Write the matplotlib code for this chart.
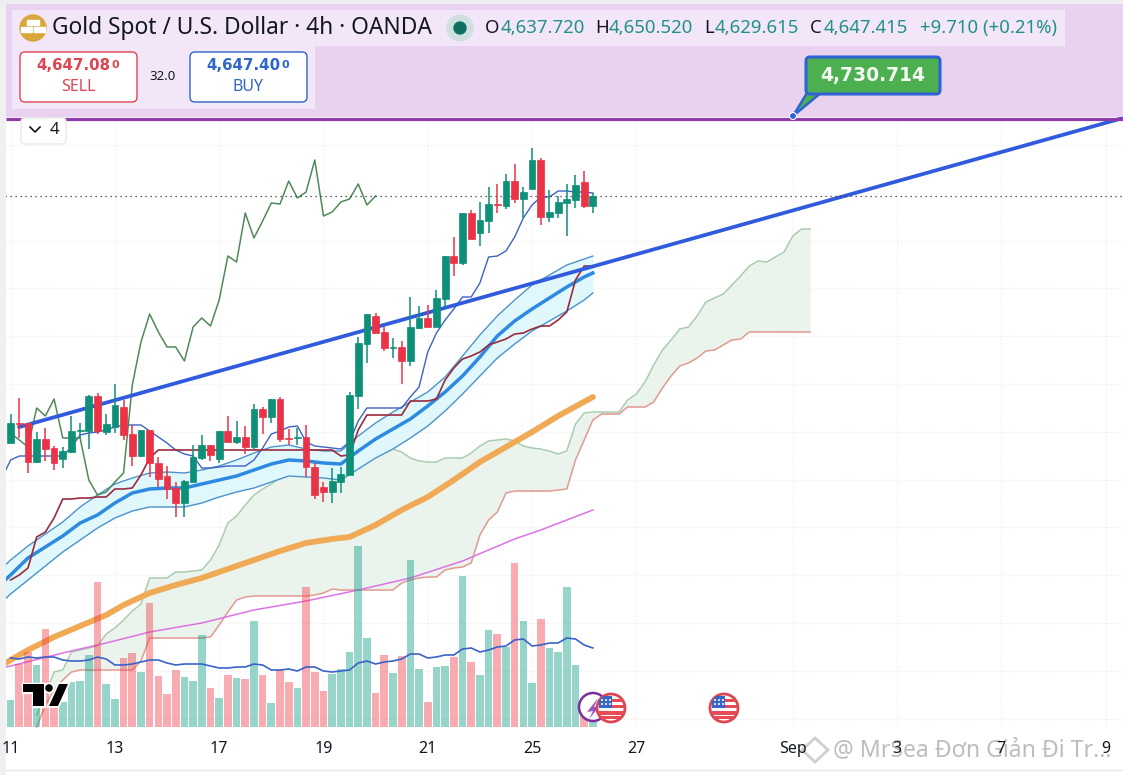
import matplotlib
matplotlib.use("Agg")
import matplotlib.pyplot as plt
from matplotlib.patches import Rectangle, Circle, FancyBboxPatch, Polygon

plt.rcParams["font.family"] = ["Noto Sans", "DejaVu Sans"]

# 4h candles
opens = [4400,4420,4420,4381,4404,4395,4384,4391,4412,4412,4447,4411,4416,4436,4409,4387,4413,4380,4367,4355,
         4340,4361,4385,4398,4384,4412,4401,4406,4396,4434,4426,4444,4405,4405,4406,4376,4356,4351,4361,4368,
         4447,4499,4527,4511,4495,4496,4482,4515,4525,4516,4544,4587,4580,4630,4610,4622,4639,4637,4662,4644,
         4654,4683,4626,4630,4640,4643,4661,4637]
highs = [4429,4445,4420,4411,4415,4397,4396,4427,4420,4448,4450,4429,4459,4443,4418,4413,4413,4386,4377,4361,
         4363,4398,4408,4398,4412,4427,4422,4417,4439,4436,4444,4446,4414,4415,4418,4380,4361,4375,4376,4451,
         4506,4529,4530,4516,4505,4502,4546,4537,4538,4553,4587,4606,4630,4633,4641,4656,4659,4669,4679,4656,
         4695,4685,4653,4647,4659,4668,4672,4650]
lows = [4400,4405,4370,4380,4382,4373,4375,4390,4405,4394,4409,4408,4410,4403,4377,4386,4366,4356,4344,4326,
        4326,4361,4383,4382,4380,4401,4399,4389,4394,4409,4420,4401,4398,4398,4366,4344,4341,4340,4350,4368,
        4434,4480,4510,4492,4485,4459,4477,4514,4516,4516,4535,4567,4578,4604,4597,4610,4630,4634,4640,4625,
        4654,4618,4621,4625,4607,4635,4635,4630]
closes = [4420,4419,4381,4404,4394,4380,4392,4412,4413,4447,4412,4419,4438,4408,4387,4413,4380,4364,4354,4340,
          4362,4386,4398,4388,4412,4401,4406,4396,4434,4426,4444,4404,4404,4406,4376,4348,4351,4362,4369,4448,
          4500,4529,4510,4495,4496,4482,4516,4525,4516,4545,4587,4580,4630,4604,4623,4639,4638,4662,4644,4651,
          4683,4626,4631,4641,4644,4658,4637,4647]

volumes = [27,63,75,62,98,20,25,45,46,72,145,43,28,69,74,55,124,51,33,57,50,46,92,39,29,52,49,48,106,52,24,57,45,39,
           140,55,36,53,58,75,181,89,34,72,54,71,167,58,25,60,61,70,151,65,52,97,93,80,164,106,44,108,79,75,140,62,15,8]
volume_ma = [69,68,70,69,70,70,67,66,66,67,70,68,62,62,63,65,67,67,64,62,63,63,63,61,59,59,60,60,63,62,57,57,58,56,
             60,60,56,55,56,57,64,66,63,65,66,68,73,73,69,70,72,72,78,79,75,77,80,81,87,88,81,82,84,84,89,88,82,79]

tenkan_bars = list(range(-1, 68))
tenkan = [4365,4383,4387,4387,4387,4387,4387,4387,4396,4408,4410,4411,4413,4416,4418,4418,4418,4412,4406,4400,4393,
          4389,4387,4375,4375,4376,4377,4377,4377,4383,4395,4409,4412,4416,4417,4401,4397,4396,4395,4394,4401,
          4422,4435,4435,4435,4435,4435,4446,4456,4491,4510,4523,4534,4546,4546,4560,4586,4587,4592,4606,4625,
          4638,4646,4646,4652,4652,4651,4651,4650]
kijun = [4263,4268,4275,4306,4311,4325,4344,4344,4345,4345,4346,4346,4354,4354,4355,4368,4385,
         4393,4393,4393,4393,4393,4393,4393,4393,4393,4393,4393,4393,4393,4393,4393,4393,4393,4393,4393,4393,4393,
         4387,4388,4413,4428,4428,4428,4428,4428,4442,4442,4442,4444,4463,4475,4484,4487,4491,4498,4501,4504,4509,
         4510,4514,4517,4517,4523,4531,4563,4577,4577]
lagging = [4410,4403,4396,4435,4427,4444,4405,4405,4405,4363,4348,4351,4361,4370,4458,4501,4529,4511,4496,4496,
           4482,4516,4525,4517,4543,4587,4581,4630,4605,4622,4640,4639,4662,4645,4651,4683,4627,4631,4641,4644,
           4659,4638,4647]

# cloud, starts at bar 3 and runs 25 bars past the last candle
span_a = [4128,4148,4171,4173,4191,4193,4195,4197,4209,4215,4223,4232,4239,4265,4265,4265,4271,4271,4272,4273,
          4283,4298,4320,4327,4338,4348,4354,4359,4365,4375,4377,4379,4382,4384,4387,4388,4394,4399,4401,4401,
          4396,4394,4391,4385,4382,4381,4381,4385,4385,4385,4390,4397,4402,4403,4404,4402,4397,4395,4394,4392,
          4389,4392,4419,4430,4431,4431,4431,4431,4443,4449,4461,4478,4493,4503,4514,4516,4527,4541,4545,4549,
          4558,4567,4577,4582,4581,4586,4591,4607,4614,4614]
span_b = [4116,4138,4153,4163,4171,4173,4173,4173,4173,4173,4173,4173,4182,4205,4205,4205,4205,4205,4205,4205,
          4206,4218,4231,4243,4246,4247,4247,4247,4247,4247,4247,4247,4248,4250,4254,4253,4253,4253,4253,4253,
          4253,4253,4260,4263,4265,4266,4266,4273,4275,4276,4280,4308,4323,4331,4350,4352,4352,4352,4352,4352,
          4353,4354,4383,4403,4423,4429,4429,4429,4436,4436,4436,4441,4455,4467,4477,4480,4485,4492,4493,4498,
          4503,4504,4511,4511,4511,4511,4511,4511,4511,4511]

# moving average with its band, read at every second bar
band_bars = [-1,0,2,4,6,8,10,12,14,16,18,20,22,24,26,28,30,32,34,36,38,40,42,44,46,48,50,52,54,56,58,60,62,64,66,67]
band_mid = [4260,4268,4285,4296,4307,4320,4328,4340,4350,4354,4355,4355,4359,4363,4367,4373,4379,4383,4382,4380,4379,
            4392,4404,4414,4424,4437,4451,4467,4486,4507,4522,4534,4545,4556,4566,4570]
band_up = [4275,4283,4297,4309,4321,4336,4348,4359,4365,4370,4371,4370,4373,4377,4383,4390,4396,4398,4394,4392,4392,
           4407,4420,4431,4441,4451,4466,4487,4508,4527,4543,4558,4568,4578,4584,4587]
band_low = [4241,4249,4263,4277,4291,4303,4315,4325,4332,4336,4336,4336,4340,4346,4351,4355,4361,4367,4366,4365,4363,
            4374,4385,4394,4405,4417,4432,4449,4467,4485,4499,4512,4522,4532,4543,4550]

ema_bars = [-1,0,2,5,8,11,13,16,19,22,25,28,31,34,37,39,42,45,48,51,54,58,60,63,67]
ema_orange = [4178,4183,4193,4206,4217,4228,4238,4250,4258,4265,4274,4283,4292,4300,4304,4306,4318,4333,4346,4363,4381,
              4401,4411,4427,4446]
slow_bars = [-1,0,6,11,16,22,28,34,40,46,52,58,61,67]
slow_magenta = [4175,4177,4190,4200,4211,4220,4233,4242,4253,4265,4282,4304,4313,4333]

trend_bars = [1,128]
trend_prices = [4416,4725]
last_close = 4647

tick_bars = [0,12,24,36,48,60,72,90,102,114,126]
tick_labels = ["11","13","17","19","21","25","27","Sep","3","7","9"]
grid_prices = [4794,4746,4698,4650,4602,4555,4507,4459,4411,4363,4316,4268,4220,4172,4124]

GREEN = "#0e8f78"
RED = "#ea3346"

fig = plt.figure(figsize=(11.23, 7.75), dpi=100, facecolor="white")

# price pane fills the figure, 1 dollar is about 1 pixel here
ax = fig.add_axes([0, 0, 1, 1])
ax.set_xlim(-1.22, 128)
ax.set_ylim(4068, 4843)
ax.axis("off")

for b in tick_bars:
    ax.plot([b, b], [4116, 4843], color="#f1f1f1", lw=0.8, ls=(0, (1.5, 1.5)), zorder=0)
for p in grid_prices:
    ax.axhline(p, color="#f1f1f1", lw=0.8, ls=(0, (1.5, 1.5)), zorder=0)

cloud_bars = list(range(3, 3 + len(span_a)))
ax.fill_between(cloud_bars, span_a, span_b, color="#ebf4ec", lw=0, zorder=1)
ax.plot(cloud_bars, span_a, color="#a9ccb0", lw=1.1, zorder=2)
ax.plot(cloud_bars, span_b, color="#e39a92", lw=1.1, zorder=2)

ax.fill_between(band_bars, band_low, band_up, color="#e0f8fc", lw=0, zorder=2)
ax.plot(band_bars, band_up, color="#4a93cc", lw=1.0, zorder=3)
ax.plot(band_bars, band_low, color="#4a93cc", lw=1.0, zorder=3)
ax.plot(band_bars, band_mid, color="#2d8ae0", lw=2.5, zorder=3)

ax.plot(ema_bars, ema_orange, color="#f0aa55", lw=4.2, solid_capstyle="round", zorder=3)
ax.plot(slow_bars, slow_magenta, color="#dc72e4", lw=1.1, zorder=3)
ax.plot(tenkan_bars, tenkan, color="#3d62c2", lw=1.0, zorder=4)
ax.plot(range(len(kijun)), kijun, color="#9a2b3c", lw=1.2, zorder=4)
ax.plot(range(len(lagging)), lagging, color="#4f8a5a", lw=1.1, zorder=4)
ax.plot(trend_bars, trend_prices, color="#2f5bdc", lw=2.7, zorder=5)
ax.axhline(last_close, color="#333333", lw=0.9, ls=(0, (1, 3)), zorder=5)

bars = list(range(len(closes)))
colors = [GREEN if c >= o else RED for o, c in zip(opens, closes)]
ax.vlines(bars, lows, highs, colors=colors, lw=1.1, zorder=6)
ax.bar(bars, [abs(c - o) for o, c in zip(opens, closes)], bottom=[min(o, c) for o, c in zip(opens, closes)],
       width=0.78, color=colors, edgecolor=colors, lw=0.5, zorder=7)

# volume sits on its own scale, same bars
ax_vol = fig.add_axes([0, 0, 1, 1], facecolor="none")
ax_vol.set_xlim(-1.22, 128)
ax_vol.set_ylim(-48, 727)
ax_vol.axis("off")
vol_colors = ["#089981" if c >= o else "#f03a48" for o, c in zip(opens, closes)]
ax_vol.bar(bars, volumes, width=0.88, color=vol_colors, alpha=0.42, lw=0)
ax_vol.plot(bars, volume_ma, color="#3a62c8", lw=1.2)

# everything around the chart, placed in screen pixels
ui = fig.add_axes([0, 0, 1, 1], facecolor="none")
ui.set_xlim(0, 1123)
ui.set_ylim(775, 0)
ui.axis("off")

ui.add_patch(Rectangle((0, 0), 6, 775, color="#f0f0f0", lw=0, zorder=1))
ui.add_patch(Rectangle((6, 4), 1117, 113, color="#e9d1f0", lw=0, zorder=1))
ui.add_patch(Rectangle((0, 0), 1123, 4, color="#eeeeee", lw=0, zorder=1))
ui.plot([6, 1123], [118.5, 118.5], color="#8e3aa8", lw=2.3, zorder=2, solid_capstyle="butt")
ui.plot([6, 1123], [770, 770], color="#e6e6e6", lw=1, zorder=1)

# legend block
ui.add_patch(Rectangle((12, 10), 1053, 36, color="#f4e6f9", lw=0, zorder=2))
ui.add_patch(Rectangle((12, 46), 303, 63, color="#f4e6f9", lw=0, zorder=2))
ui.add_patch(Circle((33, 28), 13, color="#d9a63c", zorder=3))
ui.add_patch(Rectangle((27, 20), 12, 5, color="white", zorder=4))
ui.add_patch(Rectangle((21, 27), 11, 5, color="white", zorder=4))
ui.add_patch(Rectangle((34, 27), 11, 5, color="white", zorder=4))
ui.text(52, 28.5, "Gold Spot / U.S. Dollar · 4h · OANDA", fontsize=16.4, color="#131722", va="center", zorder=4)
ui.add_patch(Circle((460, 28), 13, color="#cfdfe0", zorder=3))
ui.add_patch(Circle((460, 28), 6, color="#0f6e5f", zorder=4))

hdr = [(485, "O", "#131722"), (501, "4,637.720", "#1f9383"), (595, "H", "#131722"), (609, "4,650.520", "#1f9383"),
       (704, "L", "#131722"), (715, "4,629.615", "#1f9383"), (810, "C", "#131722"), (824, "4,647.415", "#1f9383"),
       (920, "+9.710 (+0.21%)", "#1f9383")]
for x, s, c in hdr:
    ui.text(x, 28, s, fontsize=13.4, color=c, va="center", zorder=4)

for x, col, price, word in [(20, "#dd4552", "4,647.08", "SELL"), (190, "#2f66c8", "4,647.40", "BUY")]:
    ui.add_patch(FancyBboxPatch((x + 5, 57), 107, 40, boxstyle="round,pad=5", fc="white", ec=col, lw=1, zorder=3))
    ui.text(x + 16, 66, price, fontsize=10.8, color=col, family="DejaVu Sans", fontweight="bold", va="center", zorder=4)
    ui.text(x + 92, 65, "0", fontsize=8, color=col, family="DejaVu Sans", fontweight="bold", va="center", zorder=4)
    ui.text(x + 58, 87, word, fontsize=11.5, color=col, ha="center", va="center", zorder=4)
ui.text(163, 77, "32.0", fontsize=9.5, color="#131722", ha="center", va="center", zorder=4)

# the 4 indicators toggle
ui.add_patch(FancyBboxPatch((24, 121), 39, 20, boxstyle="round,pad=3", fc="white", ec="#e4e4e4", lw=0.8, zorder=3))
ui.plot([30, 35, 40], [127, 132, 127], color="#131722", lw=1.2, zorder=4)
ui.text(54, 130, "4", fontsize=12, color="#131722", ha="center", va="center", zorder=4)

# callout for the line
ui.add_patch(Polygon([(793, 116), (822, 92), (810, 88)], fc="#4caf50", ec="#2f62d6", lw=1.8, zorder=3))
ui.add_patch(FancyBboxPatch((810, 61), 126, 29, boxstyle="round,pad=4", fc="#4caf50", ec="#2f62d6", lw=2.2, zorder=4))
ui.text(873, 75, "4,730.714", fontsize=13.5, color="#f4fbf4", family="DejaVu Sans", fontweight="bold", ha="center", va="center", zorder=5)
ui.add_patch(Circle((793, 116), 3.5, fc="#2f62d6", ec="white", lw=0.8, zorder=5))

# tradingview logo
logo = dict(fc="black", ec="white", lw=2.5, zorder=6)
ui.add_patch(Polygon([(23, 684), (44, 684), (44, 706), (33, 706), (33, 692), (23, 692)], **logo))
ui.add_patch(Polygon([(59, 684), (68, 684), (58, 706), (49, 706)], **logo))
ui.add_patch(Circle((49, 688), 3.8, **logo))
logo_ink = dict(fc="black", ec="none", zorder=7)
ui.add_patch(Polygon([(23, 684), (44, 684), (44, 706), (33, 706), (33, 692), (23, 692)], **logo_ink))
ui.add_patch(Polygon([(59, 684), (68, 684), (58, 706), (49, 706)], **logo_ink))
ui.add_patch(Circle((49, 688), 3.8, **logo_ink))

# events
ui.add_patch(Circle((593, 707), 14, fc="white", ec="#7c2da0", lw=1.8, zorder=5))
ui.add_patch(Polygon([(598, 698), (587, 712), (593, 711), (589, 719), (600, 706), (594, 707)], fc="#9c55c0", ec="none", zorder=5))
for cx in [611, 724]:
    cy = 708
    ring = Circle((cx, cy), 14, fc="white", ec="#dc4650", lw=2, zorder=6)
    ui.add_patch(ring)
    for r in [
        Rectangle((cx - 12, cy - 12), 13, 12, fc="#3866c9", ec="none", zorder=6),
        Rectangle((cx + 1, cy - 9), 12, 3, fc="#ea4a55", ec="none", zorder=6),
        Rectangle((cx + 1, cy - 3), 12, 3, fc="#ea4a55", ec="none", zorder=6),
        Rectangle((cx - 12, cy + 3), 24, 3.5, fc="#ea4a55", ec="none", zorder=6),
        Rectangle((cx - 10, cy + 8), 20, 3, fc="#ea4a55", ec="none", zorder=6),
    ]:
        ui.add_patch(r)
        r.set_clip_path(ring)
    for dx in [-9, -5, -1]:
        for dy in [-8, -4]:
            ui.add_patch(Circle((cx + dx, cy + dy), 1, fc="white", ec="none", zorder=7))

# time axis
for b, lab in zip(tick_bars, tick_labels):
    px = 10.6 + 8.69 * b
    ui.text(px, 749, lab, fontsize=11.5, color="#131722", ha="center", va="center", zorder=6)

# watermark
ui.add_patch(Polygon([(815, 738), (828, 750), (815, 762), (802, 750)], fc="none", ec="#cfcfcf", lw=2, zorder=5))
ui.text(833, 750, "@ MrSea Đơn Giản Đi Tr...", fontsize=16.6, color="#bdbdbd", va="center", zorder=5)

fig.savefig("out.png", dpi=100)
